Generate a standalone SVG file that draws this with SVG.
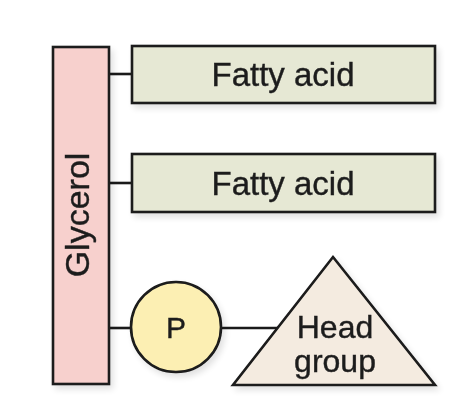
<svg xmlns="http://www.w3.org/2000/svg" width="474" height="415" viewBox="0 0 474 415">
<defs>
<filter id="sh" x="-10%" y="-10%" width="130%" height="130%">
<feGaussianBlur in="SourceAlpha" stdDeviation="3"/>
<feOffset dx="3" dy="4" result="b"/>
<feComponentTransfer><feFuncA type="linear" slope="0.12"/></feComponentTransfer>
<feMerge><feMergeNode/><feMergeNode in="SourceGraphic"/></feMerge>
</filter>
</defs>
<style>
.s{stroke:#1a1a1a;stroke-width:2.6}
.t{font-family:"Liberation Sans",Arial,sans-serif;fill:#1e1e1e;stroke:#1e1e1e;stroke-width:0.4;text-anchor:middle}
</style>
<rect width="474" height="415" fill="#fff"/>
<g id="connectors" class="s" fill="none">
<line x1="109" y1="74" x2="132" y2="74"/>
<line x1="109" y1="183" x2="132" y2="183"/>
<line x1="109" y1="328" x2="131" y2="328"/>
<line x1="221" y1="328" x2="279" y2="328"/>
</g>
<g id="glycerol" filter="url(#sh)">
<rect class="s" x="53" y="47" width="56" height="337" fill="#f7d0cd"/>
<text class="t" transform="translate(89,215) rotate(-90)" font-size="34">Glycerol</text>
</g>
<g id="fatty1" filter="url(#sh)">
<rect class="s" x="132" y="46" width="303" height="57" fill="#e6e8d4"/>
<text class="t" x="283" y="86" font-size="33">Fatty acid</text>
</g>
<g id="fatty2" filter="url(#sh)">
<rect class="s" x="132" y="154" width="303" height="58" fill="#e6e8d4"/>
<text class="t" x="283" y="195" font-size="33">Fatty acid</text>
</g>
<g id="phosphate" filter="url(#sh)">
<circle class="s" cx="176" cy="327" r="45" fill="#fcefb3"/>
<text class="t" x="176" y="338" font-size="30">P</text>
</g>
<g id="head" filter="url(#sh)">
<polygon class="s" points="333,257 435,385 233,385" fill="#f4ebe0" stroke-linejoin="miter"/>
<text class="t" x="335" y="338" font-size="32">Head</text>
<text class="t" x="335" y="372" font-size="32">group</text>
</g>
</svg>
